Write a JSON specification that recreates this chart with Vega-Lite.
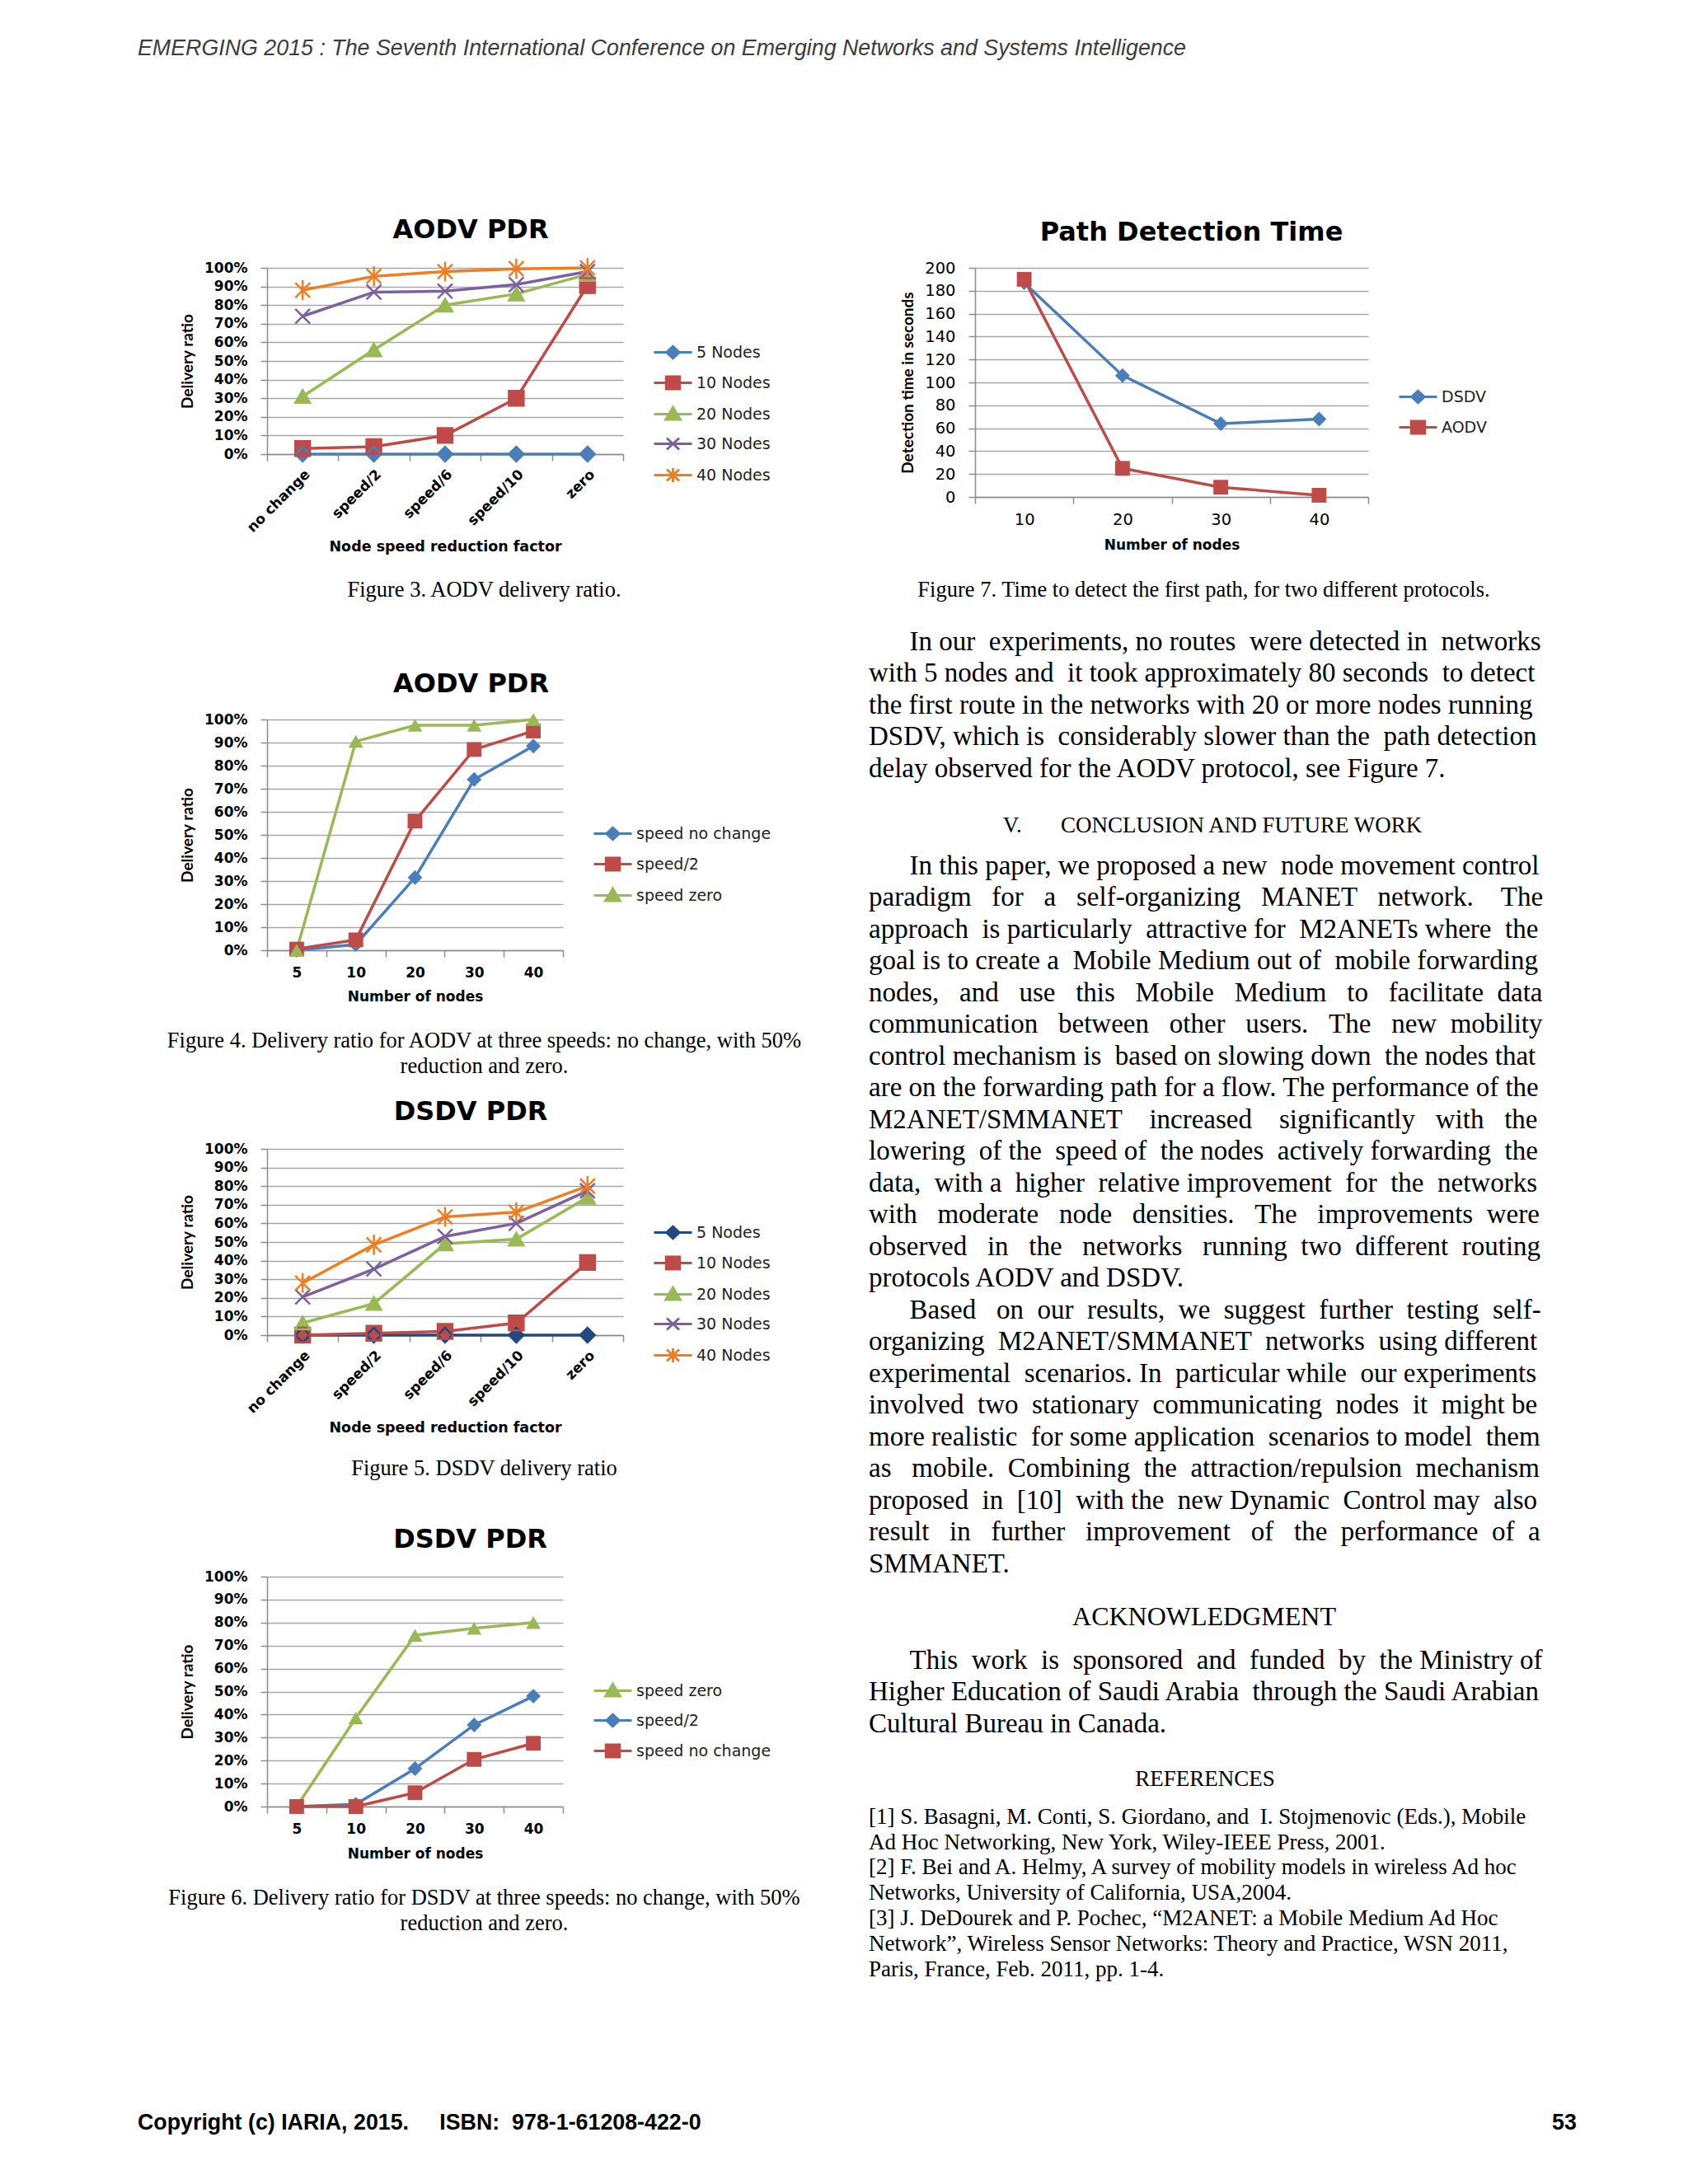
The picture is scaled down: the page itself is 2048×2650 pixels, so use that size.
{
  "$schema": "https://vega.github.io/schema/vega-lite/v6.json",
  "background": "white",
  "padding": {"left": 167, "top": 40, "right": 20, "bottom": 20},
  "config": {
    "font": "DejaVu Sans",
    "view": {"stroke": null},
    "axis": {"tickColor": "#8c8c8c", "tickWidth": 1.5, "tickSize": 8, "domainColor": "#8c8c8c", "domainWidth": 1.5, "gridColor": "#a8a8a8", "gridWidth": 1.5, "labelColor": "#000000", "titleColor": "#000000", "labelFlush": false, "labelBound": false, "labelOverlap": false},
    "legend": {"orient": "none", "padding": 0, "symbolSize": 100, "symbolStrokeWidth": 3, "symbolOpacity": 1, "labelFont": "DejaVu Sans", "labelFontSize": 19, "labelColor": "#222222", "labelOffset": 19, "rowPadding": 10, "labelLimit": 400}
  },
  "datasets": {
    "fig3": [
      {"series": "5 Nodes", "factor": "no change", "ratio": 0}, {"series": "5 Nodes", "factor": "speed/2", "ratio": 0}, {"series": "5 Nodes", "factor": "speed/6", "ratio": 0}, {"series": "5 Nodes", "factor": "speed/10", "ratio": 0}, {"series": "5 Nodes", "factor": "zero", "ratio": 0},
      {"series": "10 Nodes", "factor": "no change", "ratio": 0.03}, {"series": "10 Nodes", "factor": "speed/2", "ratio": 0.04}, {"series": "10 Nodes", "factor": "speed/6", "ratio": 0.10}, {"series": "10 Nodes", "factor": "speed/10", "ratio": 0.30}, {"series": "10 Nodes", "factor": "zero", "ratio": 0.905},
      {"series": "20 Nodes", "factor": "no change", "ratio": 0.31}, {"series": "20 Nodes", "factor": "speed/2", "ratio": 0.56}, {"series": "20 Nodes", "factor": "speed/6", "ratio": 0.80}, {"series": "20 Nodes", "factor": "speed/10", "ratio": 0.86}, {"series": "20 Nodes", "factor": "zero", "ratio": 0.965},
      {"series": "30 Nodes", "factor": "no change", "ratio": 0.74}, {"series": "30 Nodes", "factor": "speed/2", "ratio": 0.87}, {"series": "30 Nodes", "factor": "speed/6", "ratio": 0.875}, {"series": "30 Nodes", "factor": "speed/10", "ratio": 0.91}, {"series": "30 Nodes", "factor": "zero", "ratio": 0.98},
      {"series": "40 Nodes", "factor": "no change", "ratio": 0.88}, {"series": "40 Nodes", "factor": "speed/2", "ratio": 0.955}, {"series": "40 Nodes", "factor": "speed/6", "ratio": 0.98}, {"series": "40 Nodes", "factor": "speed/10", "ratio": 0.995}, {"series": "40 Nodes", "factor": "zero", "ratio": 1.0}
    ],
    "fig5": [
      {"series": "5 Nodes", "factor": "no change", "ratio": 0}, {"series": "5 Nodes", "factor": "speed/2", "ratio": 0}, {"series": "5 Nodes", "factor": "speed/6", "ratio": 0}, {"series": "5 Nodes", "factor": "speed/10", "ratio": 0}, {"series": "5 Nodes", "factor": "zero", "ratio": 0},
      {"series": "10 Nodes", "factor": "no change", "ratio": 0}, {"series": "10 Nodes", "factor": "speed/2", "ratio": 0.01}, {"series": "10 Nodes", "factor": "speed/6", "ratio": 0.02}, {"series": "10 Nodes", "factor": "speed/10", "ratio": 0.065}, {"series": "10 Nodes", "factor": "zero", "ratio": 0.39},
      {"series": "20 Nodes", "factor": "no change", "ratio": 0.065}, {"series": "20 Nodes", "factor": "speed/2", "ratio": 0.17}, {"series": "20 Nodes", "factor": "speed/6", "ratio": 0.49}, {"series": "20 Nodes", "factor": "speed/10", "ratio": 0.515}, {"series": "20 Nodes", "factor": "zero", "ratio": 0.74},
      {"series": "30 Nodes", "factor": "no change", "ratio": 0.205}, {"series": "30 Nodes", "factor": "speed/2", "ratio": 0.355}, {"series": "30 Nodes", "factor": "speed/6", "ratio": 0.53}, {"series": "30 Nodes", "factor": "speed/10", "ratio": 0.60}, {"series": "30 Nodes", "factor": "zero", "ratio": 0.775},
      {"series": "40 Nodes", "factor": "no change", "ratio": 0.28}, {"series": "40 Nodes", "factor": "speed/2", "ratio": 0.485}, {"series": "40 Nodes", "factor": "speed/6", "ratio": 0.635}, {"series": "40 Nodes", "factor": "speed/10", "ratio": 0.66}, {"series": "40 Nodes", "factor": "zero", "ratio": 0.80}
    ],
    "fig4": [
      {"series": "speed no change", "nodes": 5, "ratio": 0}, {"series": "speed no change", "nodes": 10, "ratio": 0.025}, {"series": "speed no change", "nodes": 20, "ratio": 0.315}, {"series": "speed no change", "nodes": 30, "ratio": 0.74}, {"series": "speed no change", "nodes": 40, "ratio": 0.885},
      {"series": "speed/2", "nodes": 5, "ratio": 0.005}, {"series": "speed/2", "nodes": 10, "ratio": 0.045}, {"series": "speed/2", "nodes": 20, "ratio": 0.56}, {"series": "speed/2", "nodes": 30, "ratio": 0.87}, {"series": "speed/2", "nodes": 40, "ratio": 0.95},
      {"series": "speed zero", "nodes": 5, "ratio": 0}, {"series": "speed zero", "nodes": 10, "ratio": 0.905}, {"series": "speed zero", "nodes": 20, "ratio": 0.975}, {"series": "speed zero", "nodes": 30, "ratio": 0.975}, {"series": "speed zero", "nodes": 40, "ratio": 1.0}
    ],
    "fig6": [
      {"series": "speed zero", "nodes": 5, "ratio": 0}, {"series": "speed zero", "nodes": 10, "ratio": 0.385}, {"series": "speed zero", "nodes": 20, "ratio": 0.745}, {"series": "speed zero", "nodes": 30, "ratio": 0.775}, {"series": "speed zero", "nodes": 40, "ratio": 0.80},
      {"series": "speed/2", "nodes": 5, "ratio": 0}, {"series": "speed/2", "nodes": 10, "ratio": 0.01}, {"series": "speed/2", "nodes": 20, "ratio": 0.165}, {"series": "speed/2", "nodes": 30, "ratio": 0.355}, {"series": "speed/2", "nodes": 40, "ratio": 0.48},
      {"series": "speed no change", "nodes": 5, "ratio": 0}, {"series": "speed no change", "nodes": 10, "ratio": 0}, {"series": "speed no change", "nodes": 20, "ratio": 0.06}, {"series": "speed no change", "nodes": 30, "ratio": 0.205}, {"series": "speed no change", "nodes": 40, "ratio": 0.275}
    ],
    "fig7": [
      {"series": "DSDV", "nodes": 10, "seconds": 187}, {"series": "DSDV", "nodes": 20, "seconds": 106}, {"series": "DSDV", "nodes": 30, "seconds": 64}, {"series": "DSDV", "nodes": 40, "seconds": 68},
      {"series": "AODV", "nodes": 10, "seconds": 190}, {"series": "AODV", "nodes": 20, "seconds": 25}, {"series": "AODV", "nodes": 30, "seconds": 8.5}, {"series": "AODV", "nodes": 40, "seconds": 1.5}
    ]
  },
  "columns": 2,
  "spacing": {"row": 0, "column": 427},
  "bounds": "flush",
  "resolve": {
    "scale": {"color": "independent", "fill": "independent", "stroke": "independent", "shape": "independent"},
    "legend": {"color": "independent", "fill": "independent", "stroke": "independent", "shape": "independent"}
  },
  "concat": [
    {
      "width": 1, "height": 285, "data": {"values": []}, "mark": "point",
      "title": {"text": "EMERGING 2015 : The Seventh International Conference on Emerging Networks and Systems Intelligence", "orient": "bottom", "anchor": "start", "frame": "group", "dx": -157, "offset": -279.5, "font": "Liberation Sans", "fontSize": 26.8, "fontStyle": "italic", "fontWeight": "normal", "color": "#3c3c3c", "baseline": "top"}
    },
    {"width": 1, "height": 1, "data": {"values": []}, "mark": "point"},
    {
      "width": 432, "height": 226,
      "data": {"name": "fig3"},
      "title": {"text": "AODV PDR", "font": "DejaVu Sans", "fontSize": 32, "fontWeight": "bold", "color": "#000000", "anchor": "middle", "frame": "group", "dx": 31, "offset": 12},
      "resolve": {"axis": {"x": "independent"}},
      "layer": [
        {
          "mark": {"type": "line", "strokeWidth": 3.5},
          "encoding": {
            "x": {"field": "factor", "type": "nominal", "sort": ["no change", "speed/2", "speed/6", "speed/10", "zero"], "bandPosition": 0.5, "scale": {"type": "band", "paddingInner": 0, "paddingOuter": 0},
              "axis": {"orient": "bottom", "title": "Node speed reduction factor", "titleFont": "DejaVu Sans", "titleFontSize": 17.5, "titleFontWeight": "bold", "titleBaseline": "top", "titleY": 103.8, "labelAngle": -45, "labelFont": "DejaVu Sans", "labelFontSize": 17, "labelFontWeight": "bold", "labelPadding": 8, "tickBand": "extent", "grid": false}},
            "y": {"field": "ratio", "type": "quantitative", "scale": {"domain": [0, 1], "nice": false},
              "axis": {"orient": "left", "values": [0, 0.1, 0.2, 0.3, 0.4, 0.5, 0.6, 0.7, 0.8, 0.9, 1], "tickCount": 12, "format": ".0%", "labelFont": "DejaVu Sans", "labelFontSize": 17, "labelFontWeight": "bold", "labelPadding": 16, "grid": true, "title": "Delivery ratio", "titleFont": "Lato", "titleFontSize": 19, "titleFontWeight": "bold", "titleX": -97, "titleBaseline": "middle"}},
            "color": {"field": "series", "type": "nominal", "scale": {"domain": ["40 Nodes", "30 Nodes", "20 Nodes", "10 Nodes", "5 Nodes"], "range": ["#ef7d22", "#7d60a0", "#98b954", "#be4b48", "#4a7ebb"]}, "legend": null}
          }
        },
        {
          "mark": {"type": "point", "filled": true, "size": 320, "opacity": 1},
          "encoding": {
            "x": {"field": "factor", "type": "nominal", "sort": ["no change", "speed/2", "speed/6", "speed/10", "zero"], "bandPosition": 0.5,
              "axis": {"orient": "bottom", "labels": false, "ticks": false, "domain": false, "grid": false, "title": "Figure 3. AODV delivery ratio.", "titleFont": "Liberation Serif", "titleFontSize": 26.5, "titleFontWeight": "normal", "titleX": 263, "titleY": 151, "titleBaseline": "top", "titleAlign": "center", "titleLineHeight": 31}},
            "y": {"field": "ratio", "type": "quantitative"},
            "color": {"field": "series", "type": "nominal", "scale": {"domain": ["40 Nodes", "30 Nodes", "20 Nodes", "10 Nodes", "5 Nodes"], "range": ["#ef7d22", "#7d60a0", "#98b954", "#be4b48", "#4a7ebb"]}, "legend": null},
            "shape": {"condition": [{"test": "datum.series === '5 Nodes'", "value": "diamond"}, {"test": "datum.series === '10 Nodes'", "value": "square"}, {"test": "datum.series === '20 Nodes'", "value": "triangle-up"}, {"test": "datum.series === '30 Nodes'", "value": "M-1,-1L1,1M-1,1L1,-1"}], "value": "M-1,-1L1,1M-1,1L1,-1M0,-1.35L0,1.35"}
          }
        },
        {
          "mark": {"type": "point", "filled": false, "size": 320, "strokeWidth": 2.5, "opacity": 1},
          "encoding": {
            "x": {"field": "factor", "type": "nominal", "sort": ["no change", "speed/2", "speed/6", "speed/10", "zero"], "bandPosition": 0.5, "axis": null},
            "y": {"field": "ratio", "type": "quantitative"},
            "color": {"field": "series", "type": "nominal", "scale": {"domain": ["40 Nodes", "30 Nodes", "20 Nodes", "10 Nodes", "5 Nodes"], "range": ["#ef7d22", "#7d60a0", "#98b954", "#be4b48", "#4a7ebb"]}, "legend": null},
            "shape": {"condition": [{"test": "datum.series === '5 Nodes'", "value": "diamond"}, {"test": "datum.series === '10 Nodes'", "value": "square"}, {"test": "datum.series === '20 Nodes'", "value": "triangle-up"}, {"test": "datum.series === '30 Nodes'", "value": "M-1,-1L1,1M-1,1L1,-1"}], "value": "M-1,-1L1,1M-1,1L1,-1M0,-1.35L0,1.35"}
          }
        },
        {
          "transform": [{"filter": "false"}],
          "mark": {"type": "point", "filled": true, "opacity": 1},
          "encoding": {
            "fill": {"field": "series", "type": "nominal", "scale": {"domain": ["5 Nodes", "10 Nodes", "20 Nodes", "30 Nodes", "40 Nodes"], "range": ["#4a7ebb", "#be4b48", "#98b954", "#7d60a0", "#ef7d22"]},
              "legend": {"legendX": 483, "legendY": 93, "title": null}},
            "stroke": {"field": "series", "type": "nominal", "scale": {"domain": ["5 Nodes", "10 Nodes", "20 Nodes", "30 Nodes", "40 Nodes"], "range": ["#4a7ebb", "#be4b48", "#98b954", "#7d60a0", "#ef7d22"]},
              "legend": {"legendX": 483, "legendY": 93, "title": null}},
            "shape": {"field": "series", "type": "nominal", "scale": {"domain": ["5 Nodes", "10 Nodes", "20 Nodes", "30 Nodes", "40 Nodes"], "range": ["M-4.6,0H4.6M0,-1.45L1.55,0L0,1.45L-1.55,0Z", "M-4.6,0H4.6M-1.65,-1.5H1.65V1.5H-1.65Z", "M-4.6,0H4.6M0,-1.65L1.75,1.3H-1.75Z", "M-4.6,0H4.6M-1.5,-1.4L1.5,1.4M-1.5,1.4L1.5,-1.4", "M-4.6,0H4.6M-1.5,-1.4L1.5,1.4M-1.5,1.4L1.5,-1.4M0,-1.7V1.7"]},
              "legend": {"legendX": 483, "legendY": 93, "title": null}}
          }
        }
      ]
    },
    {
      "width": 477, "height": 278,
      "data": {"name": "fig7"},
      "title": {"text": "Path Detection Time", "font": "DejaVu Sans", "fontSize": 32, "fontWeight": "bold", "color": "#000000", "anchor": "middle", "frame": "group", "dx": 24, "offset": 16},
      "resolve": {"axis": {"x": "independent"}},
      "layer": [
        {
          "mark": {"type": "line", "strokeWidth": 3.5},
          "encoding": {
            "x": {"field": "nodes", "type": "ordinal", "bandPosition": 0.5, "scale": {"type": "band", "paddingInner": 0, "paddingOuter": 0},
              "axis": {"orient": "bottom", "title": "Number of nodes", "titleFont": "DejaVu Sans", "titleFontSize": 17, "titleFontWeight": "bold", "titleBaseline": "top", "titleY": 50.8, "labelAngle": 0, "labelFont": "DejaVu Sans", "labelFontSize": 19.5, "labelFontWeight": "normal", "labelPadding": 10, "tickBand": "extent", "grid": false}},
            "y": {"field": "seconds", "type": "quantitative", "scale": {"domain": [0, 200], "nice": false},
              "axis": {"orient": "left", "values": [0, 20, 40, 60, 80, 100, 120, 140, 160, 180, 200], "tickCount": 12, "labelFont": "DejaVu Sans", "labelFontSize": 19.5, "labelFontWeight": "normal", "labelPadding": 16, "grid": true, "title": "Detection time in seconds", "titleFont": "Lato", "titleFontSize": 19, "titleFontWeight": "bold", "titleX": -82, "titleBaseline": "middle"}},
            "color": {"field": "series", "type": "nominal", "scale": {"domain": ["AODV", "DSDV"], "range": ["#be4b48", "#4a7ebb"]}, "legend": null}
          }
        },
        {
          "mark": {"type": "point", "filled": true, "size": 320, "opacity": 1},
          "encoding": {
            "x": {"field": "nodes", "type": "ordinal", "bandPosition": 0.5,
              "axis": {"orient": "bottom", "labels": false, "ticks": false, "domain": false, "grid": false, "title": "Figure 7. Time to detect the first path, for two different protocols.", "titleFont": "Liberation Serif", "titleFontSize": 26.5, "titleFontWeight": "normal", "titleX": 277, "titleY": 99.3, "titleBaseline": "top", "titleAlign": "center", "titleLineHeight": 31}},
            "y": {"field": "seconds", "type": "quantitative"},
            "color": {"field": "series", "type": "nominal", "scale": {"domain": ["AODV", "DSDV"], "range": ["#be4b48", "#4a7ebb"]}, "legend": null},
            "shape": {"condition": [{"test": "datum.series === 'DSDV'", "value": "diamond"}], "value": "square"}
          }
        },
        {
          "transform": [{"filter": "false"}],
          "mark": {"type": "point", "filled": true, "opacity": 1},
          "encoding": {
            "fill": {"field": "series", "type": "nominal", "scale": {"domain": ["DSDV", "AODV"], "range": ["#4a7ebb", "#be4b48"]},
              "legend": {"legendX": 528, "legendY": 147, "title": null}},
            "stroke": {"field": "series", "type": "nominal", "scale": {"domain": ["DSDV", "AODV"], "range": ["#4a7ebb", "#be4b48"]},
              "legend": {"legendX": 528, "legendY": 147, "title": null}},
            "shape": {"field": "series", "type": "nominal", "scale": {"domain": ["DSDV", "AODV"], "range": ["M-4.6,0H4.6M0,-1.45L1.55,0L0,1.45L-1.55,0Z", "M-4.6,0H4.6M-1.65,-1.5H1.65V1.5H-1.65Z"]},
              "legend": {"legendX": 528, "legendY": 147, "title": null}}
          }
        }
      ]
    },
    {"width": 1, "height": 270, "data": {"values": []}, "mark": "point"},
    {
      "width": 556, "height": 1, "data": {"values": []}, "mark": "point",
      "title": {"text": ["\u200b\u00a0\u00a0\u00a0\u00a0\u00a0\u00a0In our \u00a0experiments, no routes \u00a0were detected in \u00a0networks", "with 5 nodes and \u00a0it took approximately 80 seconds \u00a0to detect", "the first route in the networks with 20 or more nodes running", "DSDV, which is \u00a0considerably slower than the \u00a0path detection", "delay observed for the AODV protocol, see Figure 7."], "orient": "bottom", "anchor": "start", "frame": "group", "dx": -129, "offset": 158.8, "font": "Liberation Serif", "fontSize": 33, "fontWeight": "normal", "color": "#000000", "lineHeight": 38.5, "baseline": "top"}
    },
    {
      "width": 359, "height": 280,
      "data": {"name": "fig4"},
      "title": {"text": "AODV PDR", "font": "DejaVu Sans", "fontSize": 32, "fontWeight": "bold", "color": "#000000", "anchor": "middle", "frame": "group", "dx": 68, "offset": 17},
      "resolve": {"axis": {"x": "independent"}},
      "layer": [
        {
          "mark": {"type": "line", "strokeWidth": 3.5},
          "encoding": {
            "x": {"field": "nodes", "type": "ordinal", "bandPosition": 0.5, "scale": {"type": "band", "paddingInner": 0, "paddingOuter": 0},
              "axis": {"orient": "bottom", "title": "Number of nodes", "titleFont": "DejaVu Sans", "titleFontSize": 17, "titleFontWeight": "bold", "titleBaseline": "top", "titleY": 48.8, "labelAngle": 0, "labelFont": "DejaVu Sans", "labelFontSize": 17, "labelFontWeight": "bold", "labelPadding": 11, "tickBand": "extent", "grid": false}},
            "y": {"field": "ratio", "type": "quantitative", "scale": {"domain": [0, 1], "nice": false},
              "axis": {"orient": "left", "values": [0, 0.1, 0.2, 0.3, 0.4, 0.5, 0.6, 0.7, 0.8, 0.9, 1], "tickCount": 12, "format": ".0%", "labelFont": "DejaVu Sans", "labelFontSize": 17, "labelFontWeight": "bold", "labelPadding": 16, "grid": true, "title": "Delivery ratio", "titleFont": "Lato", "titleFontSize": 19, "titleFontWeight": "bold", "titleX": -97, "titleBaseline": "middle"}},
            "color": {"field": "series", "type": "nominal", "scale": {"domain": ["speed zero", "speed/2", "speed no change"], "range": ["#98b954", "#be4b48", "#4a7ebb"]}, "legend": null}
          }
        },
        {
          "mark": {"type": "point", "filled": true, "size": 320, "opacity": 1},
          "encoding": {
            "x": {"field": "nodes", "type": "ordinal", "bandPosition": 0.5,
              "axis": {"orient": "bottom", "labels": false, "ticks": false, "domain": false, "grid": false, "title": ["Figure 4. Delivery ratio for AODV at three speeds: no change, with 50%", "reduction and zero."], "titleFont": "Liberation Serif", "titleFontSize": 26.5, "titleFontWeight": "normal", "titleX": 263, "titleY": 96.3, "titleBaseline": "top", "titleAlign": "center", "titleLineHeight": 31}},
            "y": {"field": "ratio", "type": "quantitative"},
            "color": {"field": "series", "type": "nominal", "scale": {"domain": ["speed zero", "speed/2", "speed no change"], "range": ["#98b954", "#be4b48", "#4a7ebb"]}, "legend": null},
            "shape": {"condition": [{"test": "datum.series === 'speed no change'", "value": "diamond"}, {"test": "datum.series === 'speed/2'", "value": "square"}], "value": "triangle-up"}
          }
        },
        {
          "transform": [{"filter": "false"}],
          "mark": {"type": "point", "filled": true, "opacity": 1},
          "encoding": {
            "fill": {"field": "series", "type": "nominal", "scale": {"domain": ["speed no change", "speed/2", "speed zero"], "range": ["#4a7ebb", "#be4b48", "#98b954"]},
              "legend": {"legendX": 410, "legendY": 129, "title": null}},
            "stroke": {"field": "series", "type": "nominal", "scale": {"domain": ["speed no change", "speed/2", "speed zero"], "range": ["#4a7ebb", "#be4b48", "#98b954"]},
              "legend": {"legendX": 410, "legendY": 129, "title": null}},
            "shape": {"field": "series", "type": "nominal", "scale": {"domain": ["speed no change", "speed/2", "speed zero"], "range": ["M-4.6,0H4.6M0,-1.45L1.55,0L0,1.45L-1.55,0Z", "M-4.6,0H4.6M-1.65,-1.5H1.65V1.5H-1.65Z", "M-4.6,0H4.6M0,-1.65L1.75,1.3H-1.75Z"]},
              "legend": {"legendX": 410, "legendY": 129, "title": null}}
          }
        }
      ]
    },
    {
      "width": 556, "height": 1, "data": {"values": []}, "mark": "point",
      "title": {"text": "V.\u00a0\u00a0\u00a0\u00a0\u00a0\u00a0\u00a0CONCLUSION AND FUTURE WORK", "orient": "bottom", "anchor": "middle", "frame": "group", "dx": 10, "offset": 114.6, "font": "Liberation Serif", "fontSize": 27, "fontWeight": "normal", "color": "#000000", "baseline": "top"}
    },
    {"width": 1, "height": 241, "data": {"values": []}, "mark": "point"},
    {
      "width": 556, "height": 1, "data": {"values": []}, "mark": "point",
      "title": {"text": [
        "\u200b\u00a0\u00a0\u00a0\u00a0\u00a0\u00a0In this paper, we proposed a new \u00a0node movement control",
        "paradigm \u00a0\u00a0for \u00a0\u00a0a \u00a0\u00a0self-organizing \u00a0\u00a0MANET \u00a0\u00a0network. \u00a0\u00a0\u00a0The",
        "approach \u00a0is particularly \u00a0attractive for \u00a0M2ANETs where \u00a0the",
        "goal is to create a \u00a0Mobile Medium out of \u00a0mobile forwarding",
        "nodes, \u00a0\u00a0and \u00a0\u00a0use \u00a0\u00a0this \u00a0\u00a0Mobile \u00a0\u00a0Medium \u00a0\u00a0to \u00a0\u00a0facilitate \u00a0data",
        "communication \u00a0\u00a0between \u00a0\u00a0other \u00a0\u00a0users. \u00a0\u00a0The \u00a0\u00a0new \u00a0mobility",
        "control mechanism is \u00a0based on slowing down \u00a0the nodes that",
        "are on the forwarding path for a flow. The performance of the",
        "M2ANET/SMMANET \u00a0\u00a0\u00a0increased \u00a0\u00a0\u00a0significantly \u00a0\u00a0with \u00a0\u00a0the",
        "lowering \u00a0of the \u00a0speed of \u00a0the nodes \u00a0actively forwarding \u00a0the",
        "data, \u00a0with a \u00a0higher \u00a0relative improvement \u00a0for \u00a0the \u00a0networks",
        "with \u00a0\u00a0moderate \u00a0\u00a0node \u00a0\u00a0densities. \u00a0\u00a0The \u00a0\u00a0improvements \u00a0were",
        "observed \u00a0\u00a0in \u00a0\u00a0the \u00a0\u00a0networks \u00a0\u00a0running \u00a0two \u00a0different \u00a0routing",
        "protocols AODV and DSDV.",
        "\u200b\u00a0\u00a0\u00a0\u00a0\u00a0\u00a0Based \u00a0\u00a0on \u00a0our \u00a0results, \u00a0we \u00a0suggest \u00a0further \u00a0testing \u00a0self-",
        "organizing \u00a0M2ANET/SMMANET \u00a0networks \u00a0using different",
        "experimental \u00a0scenarios. In \u00a0particular while \u00a0our experiments",
        "involved \u00a0two \u00a0stationary \u00a0communicating \u00a0nodes \u00a0it \u00a0might be",
        "more realistic \u00a0for some application \u00a0scenarios to model \u00a0them",
        "as \u00a0\u00a0mobile. \u00a0Combining \u00a0the \u00a0attraction/repulsion \u00a0mechanism",
        "proposed \u00a0in \u00a0[10] \u00a0with the \u00a0new Dynamic \u00a0Control may \u00a0also",
        "result \u00a0\u00a0in \u00a0\u00a0further \u00a0\u00a0improvement \u00a0\u00a0of \u00a0\u00a0the \u00a0performance \u00a0of \u00a0a",
        "SMMANET."
      ], "orient": "bottom", "anchor": "start", "frame": "group", "dx": -129, "offset": -119.2, "font": "Liberation Serif", "fontSize": 33, "fontWeight": "normal", "color": "#000000", "lineHeight": 38.5, "baseline": "top"}
    },
    {
      "width": 432, "height": 226,
      "data": {"name": "fig5"},
      "title": {"text": "DSDV PDR", "font": "DejaVu Sans", "fontSize": 32, "fontWeight": "bold", "color": "#000000", "anchor": "middle", "frame": "group", "dx": 31, "offset": 19},
      "resolve": {"axis": {"x": "independent"}},
      "layer": [
        {
          "mark": {"type": "line", "strokeWidth": 3.5},
          "encoding": {
            "x": {"field": "factor", "type": "nominal", "sort": ["no change", "speed/2", "speed/6", "speed/10", "zero"], "bandPosition": 0.5, "scale": {"type": "band", "paddingInner": 0, "paddingOuter": 0},
              "axis": {"orient": "bottom", "title": "Node speed reduction factor", "titleFont": "DejaVu Sans", "titleFontSize": 17.5, "titleFontWeight": "bold", "titleBaseline": "top", "titleY": 103, "labelAngle": -45, "labelFont": "DejaVu Sans", "labelFontSize": 17, "labelFontWeight": "bold", "labelPadding": 8, "tickBand": "extent", "grid": false}},
            "y": {"field": "ratio", "type": "quantitative", "scale": {"domain": [0, 1], "nice": false},
              "axis": {"orient": "left", "values": [0, 0.1, 0.2, 0.3, 0.4, 0.5, 0.6, 0.7, 0.8, 0.9, 1], "tickCount": 12, "format": ".0%", "labelFont": "DejaVu Sans", "labelFontSize": 17, "labelFontWeight": "bold", "labelPadding": 16, "grid": true, "title": "Delivery ratio", "titleFont": "Lato", "titleFontSize": 19, "titleFontWeight": "bold", "titleX": -97, "titleBaseline": "middle"}},
            "color": {"field": "series", "type": "nominal", "scale": {"domain": ["40 Nodes", "30 Nodes", "20 Nodes", "10 Nodes", "5 Nodes"], "range": ["#ef7d22", "#7d60a0", "#98b954", "#be4b48", "#23497d"]}, "legend": null}
          }
        },
        {
          "mark": {"type": "point", "filled": true, "size": 320, "opacity": 1},
          "encoding": {
            "x": {"field": "factor", "type": "nominal", "sort": ["no change", "speed/2", "speed/6", "speed/10", "zero"], "bandPosition": 0.5,
              "axis": {"orient": "bottom", "labels": false, "ticks": false, "domain": false, "grid": false, "title": "Figure 5. DSDV delivery ratio", "titleFont": "Liberation Serif", "titleFontSize": 26.5, "titleFontWeight": "normal", "titleX": 263, "titleY": 148.3, "titleBaseline": "top", "titleAlign": "center", "titleLineHeight": 31}},
            "y": {"field": "ratio", "type": "quantitative"},
            "color": {"field": "series", "type": "nominal", "scale": {"domain": ["40 Nodes", "30 Nodes", "20 Nodes", "10 Nodes", "5 Nodes"], "range": ["#ef7d22", "#7d60a0", "#98b954", "#be4b48", "#23497d"]}, "legend": null},
            "shape": {"condition": [{"test": "datum.series === '5 Nodes'", "value": "diamond"}, {"test": "datum.series === '10 Nodes'", "value": "square"}, {"test": "datum.series === '20 Nodes'", "value": "triangle-up"}, {"test": "datum.series === '30 Nodes'", "value": "M-1,-1L1,1M-1,1L1,-1"}], "value": "M-1,-1L1,1M-1,1L1,-1M0,-1.35L0,1.35"}
          }
        },
        {
          "mark": {"type": "point", "filled": false, "size": 320, "strokeWidth": 2.5, "opacity": 1},
          "encoding": {
            "x": {"field": "factor", "type": "nominal", "sort": ["no change", "speed/2", "speed/6", "speed/10", "zero"], "bandPosition": 0.5, "axis": null},
            "y": {"field": "ratio", "type": "quantitative"},
            "color": {"field": "series", "type": "nominal", "scale": {"domain": ["40 Nodes", "30 Nodes", "20 Nodes", "10 Nodes", "5 Nodes"], "range": ["#ef7d22", "#7d60a0", "#98b954", "#be4b48", "#23497d"]}, "legend": null},
            "shape": {"condition": [{"test": "datum.series === '5 Nodes'", "value": "diamond"}, {"test": "datum.series === '10 Nodes'", "value": "square"}, {"test": "datum.series === '20 Nodes'", "value": "triangle-up"}, {"test": "datum.series === '30 Nodes'", "value": "M-1,-1L1,1M-1,1L1,-1"}], "value": "M-1,-1L1,1M-1,1L1,-1M0,-1.35L0,1.35"}
          }
        },
        {
          "transform": [{"filter": "false"}],
          "mark": {"type": "point", "filled": true, "opacity": 1},
          "encoding": {
            "fill": {"field": "series", "type": "nominal", "scale": {"domain": ["5 Nodes", "10 Nodes", "20 Nodes", "30 Nodes", "40 Nodes"], "range": ["#23497d", "#be4b48", "#98b954", "#7d60a0", "#ef7d22"]},
              "legend": {"legendX": 483, "legendY": 92, "title": null}},
            "stroke": {"field": "series", "type": "nominal", "scale": {"domain": ["5 Nodes", "10 Nodes", "20 Nodes", "30 Nodes", "40 Nodes"], "range": ["#23497d", "#be4b48", "#98b954", "#7d60a0", "#ef7d22"]},
              "legend": {"legendX": 483, "legendY": 92, "title": null}},
            "shape": {"field": "series", "type": "nominal", "scale": {"domain": ["5 Nodes", "10 Nodes", "20 Nodes", "30 Nodes", "40 Nodes"], "range": ["M-4.6,0H4.6M0,-1.45L1.55,0L0,1.45L-1.55,0Z", "M-4.6,0H4.6M-1.65,-1.5H1.65V1.5H-1.65Z", "M-4.6,0H4.6M0,-1.65L1.75,1.3H-1.75Z", "M-4.6,0H4.6M-1.5,-1.4L1.5,1.4M-1.5,1.4L1.5,-1.4", "M-4.6,0H4.6M-1.5,-1.4L1.5,1.4M-1.5,1.4L1.5,-1.4M0,-1.7V1.7"]},
              "legend": {"legendX": 483, "legendY": 92, "title": null}}
          }
        }
      ]
    },
    {
      "width": 556, "height": 1, "data": {"values": []}, "mark": "point",
      "title": {"text": "ACKNOWLEDGMENT", "orient": "bottom", "anchor": "middle", "frame": "group", "dx": 0, "offset": 552.3, "font": "Liberation Serif", "fontSize": 32, "fontWeight": "normal", "color": "#000000", "baseline": "top"}
    },
    {"width": 1, "height": 293, "data": {"values": []}, "mark": "point"},
    {
      "width": 556, "height": 1, "data": {"values": []}, "mark": "point",
      "title": {"text": ["\u200b\u00a0\u00a0\u00a0\u00a0\u00a0\u00a0This \u00a0work \u00a0is \u00a0sponsored \u00a0and \u00a0funded \u00a0by \u00a0the Ministry of", "Higher Education of Saudi Arabia \u00a0through the Saudi Arabian", "Cultural Bureau in Canada."], "orient": "bottom", "anchor": "start", "frame": "group", "dx": -129, "offset": 377.8, "font": "Liberation Serif", "fontSize": 33, "fontWeight": "normal", "color": "#000000", "lineHeight": 38.5, "baseline": "top"}
    },
    {
      "width": 359, "height": 279,
      "data": {"name": "fig6"},
      "title": {"text": "DSDV PDR", "font": "DejaVu Sans", "fontSize": 32, "fontWeight": "bold", "color": "#000000", "anchor": "middle", "frame": "group", "dx": 67, "offset": 19},
      "resolve": {"axis": {"x": "independent"}},
      "layer": [
        {
          "mark": {"type": "line", "strokeWidth": 3.5},
          "encoding": {
            "x": {"field": "nodes", "type": "ordinal", "bandPosition": 0.5, "scale": {"type": "band", "paddingInner": 0, "paddingOuter": 0},
              "axis": {"orient": "bottom", "title": "Number of nodes", "titleFont": "DejaVu Sans", "titleFontSize": 17, "titleFontWeight": "bold", "titleBaseline": "top", "titleY": 49.8, "labelAngle": 0, "labelFont": "DejaVu Sans", "labelFontSize": 17, "labelFontWeight": "bold", "labelPadding": 11, "tickBand": "extent", "grid": false}},
            "y": {"field": "ratio", "type": "quantitative", "scale": {"domain": [0, 1], "nice": false},
              "axis": {"orient": "left", "values": [0, 0.1, 0.2, 0.3, 0.4, 0.5, 0.6, 0.7, 0.8, 0.9, 1], "tickCount": 12, "format": ".0%", "labelFont": "DejaVu Sans", "labelFontSize": 17, "labelFontWeight": "bold", "labelPadding": 16, "grid": true, "title": "Delivery ratio", "titleFont": "Lato", "titleFontSize": 19, "titleFontWeight": "bold", "titleX": -97, "titleBaseline": "middle"}},
            "color": {"field": "series", "type": "nominal", "scale": {"domain": ["speed no change", "speed/2", "speed zero"], "range": ["#be4b48", "#4a7ebb", "#98b954"]}, "legend": null}
          }
        },
        {
          "mark": {"type": "point", "filled": true, "size": 320, "opacity": 1},
          "encoding": {
            "x": {"field": "nodes", "type": "ordinal", "bandPosition": 0.5,
              "axis": {"orient": "bottom", "labels": false, "ticks": false, "domain": false, "grid": false, "title": ["Figure 6. Delivery ratio for DSDV at three speeds: no change, with 50%", "reduction and zero."], "titleFont": "Liberation Serif", "titleFontSize": 26.5, "titleFontWeight": "normal", "titleX": 263, "titleY": 97.3, "titleBaseline": "top", "titleAlign": "center", "titleLineHeight": 31}},
            "y": {"field": "ratio", "type": "quantitative"},
            "color": {"field": "series", "type": "nominal", "scale": {"domain": ["speed no change", "speed/2", "speed zero"], "range": ["#be4b48", "#4a7ebb", "#98b954"]}, "legend": null},
            "shape": {"condition": [{"test": "datum.series === 'speed zero'", "value": "triangle-up"}, {"test": "datum.series === 'speed/2'", "value": "diamond"}], "value": "square"}
          }
        },
        {
          "transform": [{"filter": "false"}],
          "mark": {"type": "point", "filled": true, "opacity": 1},
          "encoding": {
            "fill": {"field": "series", "type": "nominal", "scale": {"domain": ["speed zero", "speed/2", "speed no change"], "range": ["#98b954", "#4a7ebb", "#be4b48"]},
              "legend": {"legendX": 410, "legendY": 129, "title": null}},
            "stroke": {"field": "series", "type": "nominal", "scale": {"domain": ["speed zero", "speed/2", "speed no change"], "range": ["#98b954", "#4a7ebb", "#be4b48"]},
              "legend": {"legendX": 410, "legendY": 129, "title": null}},
            "shape": {"field": "series", "type": "nominal", "scale": {"domain": ["speed zero", "speed/2", "speed no change"], "range": ["M-4.6,0H4.6M0,-1.65L1.75,1.3H-1.75Z", "M-4.6,0H4.6M0,-1.45L1.55,0L0,1.45L-1.55,0Z", "M-4.6,0H4.6M-1.65,-1.5H1.65V1.5H-1.65Z"]},
              "legend": {"legendX": 410, "legendY": 129, "title": null}}
          }
        }
      ]
    },
    {
      "width": 556, "height": 1, "data": {"values": []}, "mark": "point",
      "title": {"text": "REFERENCES", "orient": "bottom", "anchor": "middle", "frame": "group", "dx": 1, "offset": 231.6, "font": "Liberation Serif", "fontSize": 27, "fontWeight": "normal", "color": "#000000", "baseline": "top"}
    },
    {"width": 1, "height": 284, "data": {"values": []}, "mark": "point"},
    {
      "width": 556, "height": 1, "data": {"values": []}, "mark": "point",
      "title": {"text": ["[1] S. Basagni, M. Conti, S. Giordano, and\u00a0 I. Stojmenovic (Eds.), Mobile", "Ad Hoc Networking, New York, Wiley-IEEE Press, 2001.", "[2] F. Bei and A. Helmy, A survey of mobility models in wireless Ad hoc", "Networks, University of California, USA,2004.", "[3] J. DeDourek and P. Pochec, \u201cM2ANET: a Mobile Medium Ad Hoc", "Network\u201d, Wireless Sensor Networks: Theory and Practice, WSN 2011,", "Paris, France, Feb. 2011, pp. 1-4."], "orient": "bottom", "anchor": "start", "frame": "group", "dx": -129, "offset": -1.2, "font": "Liberation Serif", "fontSize": 27, "fontWeight": "normal", "color": "#000000", "lineHeight": 30.8, "baseline": "top"}
    },
    {
      "width": 1, "height": 1, "data": {"values": []}, "mark": "point",
      "title": {"text": "Copyright (c) IARIA, 2015.\u00a0\u00a0\u00a0\u00a0 ISBN:\u00a0 978-1-61208-422-0", "orient": "bottom", "anchor": "start", "frame": "group", "dx": -157, "offset": 85.6, "font": "Liberation Sans", "fontSize": 26.8, "fontWeight": "bold", "color": "#000000", "baseline": "top"}
    },
    {
      "width": 1, "height": 1, "data": {"values": []}, "mark": "point",
      "title": {"text": "53", "orient": "bottom", "anchor": "start", "frame": "group", "dx": 700, "offset": 85.6, "font": "Liberation Sans", "fontSize": 26.8, "fontWeight": "bold", "color": "#000000", "baseline": "top"}
    }
  ]
}
